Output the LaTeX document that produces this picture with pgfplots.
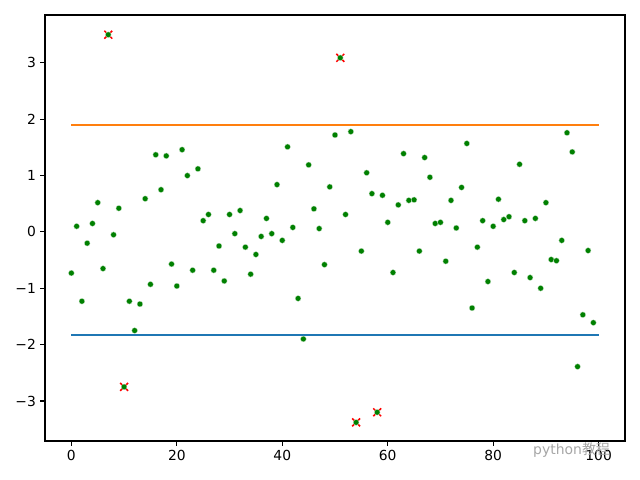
\documentclass[border=0pt]{standalone}
\usepackage{pgfplots}
\pgfplotsset{compat=1.18}
\usepackage{fontspec}
\setmainfont{DejaVu Sans}
\newfontfamily\cjk{Noto Sans CJK SC}
\definecolor{mplblue}{HTML}{1F77B4}
\definecolor{mplorange}{HTML}{FF7F0E}
\definecolor{mplgreen}{RGB}{0,128,0}
\begin{document}
\begin{tikzpicture}[x=1bp,y=1bp]
\useasboundingbox (0,0) rectangle (640,480);
\begin{axis}[
  at={(45bp,39bp)}, anchor=south west,
  scale only axis, width=580bp, height=426bp,
  xmin=-5, xmax=105, ymin=-3.71, ymax=3.85,
  xtick={0,20,40,60,80,100},
  ytick={-3,-2,-1,0,1,2,3},
  yticklabels={−3,−2,−1,0,1,2,3},
  /pgf/number format/assume math mode=true,
  tick pos=left, tick align=outside,
  major tick length=4.9bp,
  tick style={black, line width=1.1bp},
  axis line style={black, line width=1.1bp},
  ticklabel style={font=\fontsize{13.9}{16}\selectfont},
  xticklabel style={inner sep=0pt, yshift=-4bp},
  yticklabel style={inner sep=0pt, xshift=-4bp},
]
\addplot[mplblue, line width=2bp] coordinates {(0,-1.83) (100,-1.83)};
\addplot[mplorange, line width=2bp] coordinates {(0,1.89) (100,1.89)};
\addplot[only marks, red, mark=x, mark size=5.6bp, line width=1.5bp] coordinates {
(7,3.50) (10,-2.75) (51,3.09) (54,-3.38) (58,-3.20)};
\addplot[only marks, mark=*, mark size=2.9bp, mark options={draw=white!80!mplgreen, line width=0.3bp, fill=mplgreen}] table[x=i,y=v] {
i v
0 -0.73
1 0.10
2 -1.23
3 -0.20
4 0.15
5 0.52
6 -0.65
7 3.50
8 -0.05
9 0.42
10 -2.75
11 -1.23
12 -1.75
13 -1.28
14 0.59
15 -0.93
16 1.37
17 0.75
18 1.35
19 -0.57
20 -0.96
21 1.46
22 1.00
23 -0.68
24 1.12
25 0.20
26 0.31
27 -0.68
28 -0.25
29 -0.87
30 0.31
31 -0.03
32 0.38
33 -0.27
34 -0.75
35 -0.40
36 -0.08
37 0.24
38 -0.03
39 0.84
40 -0.15
41 1.51
42 0.08
43 -1.18
44 -1.90
45 1.19
46 0.41
47 0.06
48 -0.58
49 0.80
50 1.72
51 3.09
52 0.31
53 1.78
54 -3.38
55 -0.34
56 1.05
57 0.68
58 -3.20
59 0.65
60 0.17
61 -0.72
62 0.48
63 1.39
64 0.56
65 0.57
66 -0.34
67 1.32
68 0.97
69 0.15
70 0.17
71 -0.52
72 0.56
73 0.07
74 0.79
75 1.57
76 -1.35
77 -0.27
78 0.20
79 -0.88
80 0.10
81 0.58
82 0.22
83 0.27
84 -0.72
85 1.20
86 0.20
87 -0.81
88 0.24
89 -1.00
90 0.52
91 -0.49
92 -0.51
93 -0.15
94 1.76
95 1.42
96 -2.39
97 -1.47
98 -0.33
99 -1.61
};
\end{axis}
\node[anchor=west, text=black!35, font=\fontsize{14}{16}\selectfont, inner sep=0pt] at (533bp,30bp) {python\cjk 教程};
\end{tikzpicture}
\end{document}
